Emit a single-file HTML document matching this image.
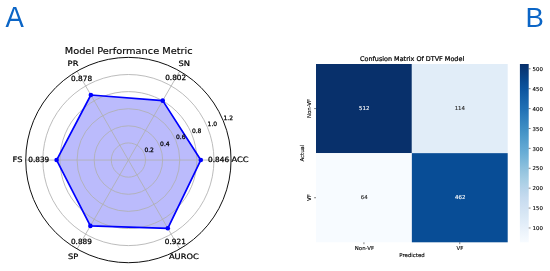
<!DOCTYPE html><html><head><meta charset="utf-8"><title>Figure</title><style>html,body{margin:0;padding:0;background:#fff;width:550px;height:271px;overflow:hidden}svg{display:block}</style></head><body><svg width="550" height="271" viewBox="0 0 550 271" font-family="'DejaVu Sans', 'Liberation Sans', sans-serif">
<rect width="550" height="271" fill="#fff"/>
<polygon points="200.78,160.05 162.71,100.63 90.84,95.00 56.62,160.05 90.37,225.91 167.80,228.29" fill="#bbbbfc" stroke="none"/>
<circle cx="128.4" cy="160.05" r="17.11" fill="none" stroke="#b0b0b0" stroke-width="0.85"/>
<circle cx="128.4" cy="160.05" r="34.22" fill="none" stroke="#b0b0b0" stroke-width="0.85"/>
<circle cx="128.4" cy="160.05" r="51.33" fill="none" stroke="#b0b0b0" stroke-width="0.85"/>
<circle cx="128.4" cy="160.05" r="68.44" fill="none" stroke="#b0b0b0" stroke-width="0.85"/>
<circle cx="128.4" cy="160.05" r="85.55" fill="none" stroke="#b0b0b0" stroke-width="0.85"/>
<line x1="128.4" y1="160.05" x2="231.06" y2="160.05" stroke="#b0b0b0" stroke-width="0.85"/>
<line x1="128.4" y1="160.05" x2="179.73" y2="71.14" stroke="#b0b0b0" stroke-width="0.85"/>
<line x1="128.4" y1="160.05" x2="77.07" y2="71.14" stroke="#b0b0b0" stroke-width="0.85"/>
<line x1="128.4" y1="160.05" x2="25.74" y2="160.05" stroke="#b0b0b0" stroke-width="0.85"/>
<line x1="128.4" y1="160.05" x2="77.07" y2="248.96" stroke="#b0b0b0" stroke-width="0.85"/>
<line x1="128.4" y1="160.05" x2="179.73" y2="248.96" stroke="#b0b0b0" stroke-width="0.85"/>
<circle cx="128.4" cy="160.05" r="102.66" fill="none" stroke="#111" stroke-width="1.0"/>
<polygon points="200.78,160.05 162.71,100.63 90.84,95.00 56.62,160.05 90.37,225.91 167.80,228.29" fill="none" stroke="#0000ff" stroke-width="1.7" stroke-linejoin="round"/>
<circle cx="200.78" cy="160.05" r="2.3" fill="#0000ff"/>
<circle cx="162.71" cy="100.63" r="2.3" fill="#0000ff"/>
<circle cx="90.84" cy="95.00" r="2.3" fill="#0000ff"/>
<circle cx="56.62" cy="160.05" r="2.3" fill="#0000ff"/>
<circle cx="90.37" cy="225.91" r="2.3" fill="#0000ff"/>
<circle cx="167.80" cy="228.29" r="2.3" fill="#0000ff"/>
<rect x="316.0" y="64.0" width="95.85" height="89.15" fill="#08306b"/>
<rect x="411.85" y="64.0" width="95.85" height="89.15" fill="#e1edf8"/>
<rect x="316.0" y="153.15" width="95.85" height="89.15" fill="#f7fbff"/>
<rect x="411.85" y="153.15" width="95.85" height="89.15" fill="#084d96"/>
<defs><linearGradient id="cb" x1="0" y1="0" x2="0" y2="1"><stop offset="0.00" stop-color="#08306b"/><stop offset="0.05" stop-color="#083c7d"/><stop offset="0.10" stop-color="#084a91"/><stop offset="0.15" stop-color="#0d57a1"/><stop offset="0.20" stop-color="#1764ab"/><stop offset="0.25" stop-color="#2070b4"/><stop offset="0.30" stop-color="#2e7ebc"/><stop offset="0.35" stop-color="#3b8bc2"/><stop offset="0.40" stop-color="#4a98c9"/><stop offset="0.45" stop-color="#5ba3d0"/><stop offset="0.50" stop-color="#6aaed6"/><stop offset="0.55" stop-color="#7fb9da"/><stop offset="0.60" stop-color="#94c4df"/><stop offset="0.65" stop-color="#a6cee4"/><stop offset="0.70" stop-color="#b7d4ea"/><stop offset="0.75" stop-color="#c6dbef"/><stop offset="0.80" stop-color="#d0e1f2"/><stop offset="0.85" stop-color="#d9e8f5"/><stop offset="0.90" stop-color="#e3eef9"/><stop offset="0.95" stop-color="#eef5fc"/><stop offset="1.00" stop-color="#f7fbff"/></linearGradient></defs>
<rect x="519.9" y="64.0" width="8.80" height="178.30" fill="url(#cb)"/>
<line x1="528.7" y1="227.97" x2="530.60" y2="227.97" stroke="#000" stroke-width="0.5"/>
<line x1="528.7" y1="208.07" x2="530.60" y2="208.07" stroke="#000" stroke-width="0.5"/>
<line x1="528.7" y1="188.17" x2="530.60" y2="188.17" stroke="#000" stroke-width="0.5"/>
<line x1="528.7" y1="168.27" x2="530.60" y2="168.27" stroke="#000" stroke-width="0.5"/>
<line x1="528.7" y1="148.37" x2="530.60" y2="148.37" stroke="#000" stroke-width="0.5"/>
<line x1="528.7" y1="128.47" x2="530.60" y2="128.47" stroke="#000" stroke-width="0.5"/>
<line x1="528.7" y1="108.58" x2="530.60" y2="108.58" stroke="#000" stroke-width="0.5"/>
<line x1="528.7" y1="88.68" x2="530.60" y2="88.68" stroke="#000" stroke-width="0.5"/>
<line x1="528.7" y1="68.78" x2="530.60" y2="68.78" stroke="#000" stroke-width="0.5"/>
<line x1="314.1" y1="108.58" x2="316.0" y2="108.58" stroke="#000" stroke-width="0.5"/>
<line x1="314.1" y1="197.73" x2="316.0" y2="197.73" stroke="#000" stroke-width="0.5"/>
<line x1="363.93" y1="242.3" x2="363.93" y2="244.20000000000002" stroke="#000" stroke-width="0.5"/>
<line x1="459.77" y1="242.3" x2="459.77" y2="244.20000000000002" stroke="#000" stroke-width="0.5"/>
<text transform="translate(64.75 54.00) scale(1.008 0.92)" font-size="9.7" fill="#000" stroke="#000" stroke-width="0.15">Model Performance Metric</text>
<text transform="translate(67.62 66.00) scale(1.04 0.93)" font-size="8.0" fill="#000" stroke="#000" stroke-width="0.25">PR</text>
<text transform="translate(71.05 81.00) scale(1.02 1.0)" font-size="7.2" fill="#000" stroke="#000" stroke-width="0.25">0.878</text>
<text transform="translate(178.47 66.00) scale(1.04 0.93)" font-size="8.0" fill="#000" stroke="#000" stroke-width="0.25">SN</text>
<text transform="translate(165.18 80.00) scale(1.02 1.0)" font-size="7.2" fill="#000" stroke="#000" stroke-width="0.25">0.802</text>
<text transform="translate(208.05 162.00) scale(1.02 1.0)" font-size="7.2" fill="#000" stroke="#000" stroke-width="0.25">0.846</text>
<text transform="translate(231.47 162.00) scale(1.04 0.93)" font-size="8.0" fill="#000" stroke="#000" stroke-width="0.25">ACC</text>
<text transform="translate(12.62 162.00) scale(1.04 0.93)" font-size="8.0" fill="#000" stroke="#000" stroke-width="0.25">FS</text>
<text transform="translate(28.25 162.00) scale(1.02 1.0)" font-size="7.2" fill="#000" stroke="#000" stroke-width="0.25">0.839</text>
<text transform="translate(70.95 244.00) scale(1.02 1.0)" font-size="7.2" fill="#000" stroke="#000" stroke-width="0.25">0.889</text>
<text transform="translate(68.10 259.00) scale(1.04 0.93)" font-size="8.0" fill="#000" stroke="#000" stroke-width="0.25">SP</text>
<text transform="translate(164.80 244.00) scale(1.02 1.0)" font-size="7.2" fill="#000" stroke="#000" stroke-width="0.25">0.921</text>
<text transform="translate(168.90 259.00) scale(1.04 0.93)" font-size="8.0" fill="#000" stroke="#000" stroke-width="0.25">AUROC</text>
<text x="144.40" y="152.00" font-size="6.0" fill="#000" stroke="#000" stroke-width="0.25">0.2</text>
<text x="160.11" y="146.00" font-size="6.0" fill="#000" stroke="#000" stroke-width="0.25">0.4</text>
<text x="176.06" y="139.00" font-size="6.0" fill="#000" stroke="#000" stroke-width="0.25">0.6</text>
<text x="191.89" y="133.00" font-size="6.0" fill="#000" stroke="#000" stroke-width="0.25">0.8</text>
<text x="207.59" y="126.00" font-size="6.0" fill="#000" stroke="#000" stroke-width="0.25">1.0</text>
<text x="223.43" y="120.00" font-size="6.0" fill="#000" stroke="#000" stroke-width="0.25">1.2</text>
<text x="360.05" y="61.00" font-size="6.45" fill="#000" stroke="#000" stroke-width="0.22">Confusion Matrix Of DTVF Model</text>
<text x="359.07" y="110.00" font-size="5.4" fill="#fff" stroke="#fff" stroke-width="0.12">512</text>
<text x="454.68" y="110.00" font-size="5.4" fill="#262626" stroke="#262626" stroke-width="0.12">114</text>
<text x="360.75" y="199.00" font-size="5.4" fill="#262626" stroke="#262626" stroke-width="0.12">64</text>
<text x="455.05" y="199.00" font-size="5.4" fill="#fff" stroke="#fff" stroke-width="0.12">462</text>
<text x="311.12" y="118.08" font-size="5.4" fill="#000" stroke="#000" stroke-width="0.12" transform="rotate(-90 311.12 118.08)">Non-VF</text>
<text x="311.02" y="201.03" font-size="5.4" fill="#000" stroke="#000" stroke-width="0.12" transform="rotate(-90 311.02 201.03)">VF</text>
<text x="304.40" y="161.50" font-size="5.4" fill="#000" stroke="#000" stroke-width="0.12" transform="rotate(-90 304.40 161.50)">Actual</text>
<text x="354.82" y="250.00" font-size="5.4" fill="#000" stroke="#000" stroke-width="0.12">Non-VF</text>
<text x="456.60" y="250.00" font-size="5.4" fill="#000" stroke="#000" stroke-width="0.12">VF</text>
<text x="399.33" y="257.00" font-size="5.4" fill="#000" stroke="#000" stroke-width="0.12">Predicted</text>
<text x="532.60" y="230.00" font-size="5.4" fill="#000" stroke="#000" stroke-width="0.12">100</text>
<text x="532.60" y="210.00" font-size="5.4" fill="#000" stroke="#000" stroke-width="0.12">150</text>
<text x="532.60" y="190.00" font-size="5.4" fill="#000" stroke="#000" stroke-width="0.12">200</text>
<text x="532.60" y="170.00" font-size="5.4" fill="#000" stroke="#000" stroke-width="0.12">250</text>
<text x="532.60" y="151.00" font-size="5.4" fill="#000" stroke="#000" stroke-width="0.12">300</text>
<text x="532.60" y="131.00" font-size="5.4" fill="#000" stroke="#000" stroke-width="0.12">350</text>
<text x="532.60" y="111.00" font-size="5.4" fill="#000" stroke="#000" stroke-width="0.12">400</text>
<text x="532.60" y="91.00" font-size="5.4" fill="#000" stroke="#000" stroke-width="0.12">450</text>
<text x="532.60" y="71.00" font-size="5.4" fill="#000" stroke="#000" stroke-width="0.12">500</text>
<text transform="translate(5.5 26.6) scale(1.0 1.06)" font-family="'Liberation Sans', sans-serif" font-size="27.5" fill="#0b65c6">A</text>
<text x="525.5" y="27.1" font-family="'Liberation Sans', sans-serif" font-size="27.5" fill="#0b65c6">B</text>
</svg></body></html>
